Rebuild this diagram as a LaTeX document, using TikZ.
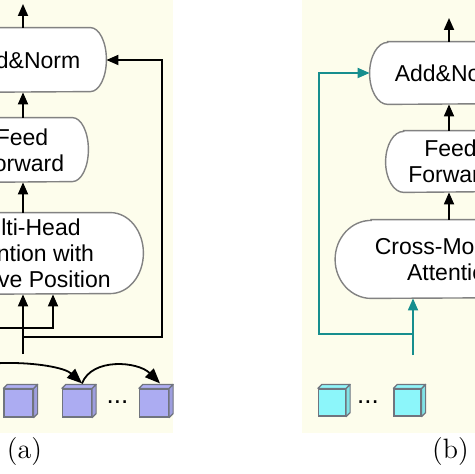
\documentclass[tikz,border=0pt]{standalone}
\usepackage{fontspec}
\newfontfamily\arialf{Liberation Sans}
\usetikzlibrary{arrows.meta,calc}
\definecolor{bgY}{RGB}{253,253,236}
\definecolor{lav}{RGB}{172,172,242}
\definecolor{cya}{RGB}{140,246,250}
\definecolor{tealc}{RGB}{22,142,142}
\definecolor{edgeg}{RGB}{130,130,130}
\definecolor{cubeg}{RGB}{112,116,126}
\pgfdeclarelayer{bglayer}\pgfdeclarelayer{midlayer}\pgfsetlayers{bglayer,midlayer,main}
\newcommand\pilloutline[3]{%
  \draw[pillb] ([xshift=#2]#1.north west) -- ([xshift=-#2]#1.north east)
    arc[start angle=90,end angle=-90,x radius=#2,y radius=#3]
    -- ([xshift=#2]#1.south west)
    arc[start angle=270,end angle=90,x radius=#2,y radius=#3] -- cycle;}
\begin{document}
\begin{tikzpicture}[x=0.5pt,y=-0.5pt,
  blk/.style 2 args={inner sep=0pt, align=center, minimum width=#1, minimum height=#2,
    font=\arialf\fontsize{11.5}{13}\selectfont},
  pillb/.style={draw=edgeg, fill=white, line width=0.7pt},
  arr/.style={line width=0.9pt, draw=black, -{Triangle[length=6pt,width=5pt]}},
  tarr/.style={line width=0.9pt, draw=tealc, -{Triangle[length=6pt,width=5pt]}},
  arcarr/.style={line width=0.9pt, -{Triangle[length=7.5pt,width=6pt]}},
  cubeL/.style={draw=cubeg, fill=lav, line width=0.6pt, inner sep=0pt, minimum width=14.5pt, minimum height=14pt},
  cubeR/.style={draw=cubeg, fill=cya, line width=0.6pt, inner sep=0pt, minimum width=13.5pt, minimum height=13.5pt},
  cubeface/.style={draw=cubeg, line width=0.6pt, line join=round},
  dotsn/.style={inner sep=0pt, font=\arialf\fontsize{13}{14}\selectfont},
  lab/.style={inner sep=0pt, font=\fontsize{14}{16}\selectfont}]
\useasboundingbox (0,0) rectangle (474,474);
\clip (0,0) rectangle (474,474);
\begin{pgfonlayer}{bglayer}
  \fill[white] (0,0) rectangle (474,474);
  \fill[bgY] (-10,0) rectangle (173,433);
  \fill[bgY] (302,0) rectangle (484,433);
\end{pgfonlayer}

% ---- panel (a)
\node[blk={82pt}{32pt}] (anl) at (24,60) {Add\&Norm};
\node[blk={66pt}{32pt}] (ffl) at (22,150) {Feed\\Forward};
\node[blk={118pt}{40.5pt}] (mhl) at (25,253.5) {Multi-Head\\Attention with\\Relative Position};
\begin{pgfonlayer}{midlayer}
  \pilloutline{anl}{8pt}{16pt}
  \pilloutline{ffl}{8pt}{16pt}
  \pilloutline{mhl}{16.5pt}{20.25pt}
\end{pgfonlayer}
\coordinate (inL) at (23,354);
\coordinate (outL) at (23,4);
\coordinate (b1) at (23,337);
\coordinate (r1) at (162,337);
\coordinate (relL) at (-10,328);
\coordinate (k2) at (53,328);
\draw[arr] (inL) -- (inL |- mhl.south);
\draw[arr] (relL) -- (k2) -- (k2 |- mhl.south);
\draw[arr] (b1) -- (r1) |- (anl.east);
\draw[arr] (inL |- mhl.north) -- (inL |- ffl.south);
\draw[arr] (inL |- ffl.north) -- (inL |- anl.south);
\draw[arr] (inL |- anl.north) -- (outL);

\node[cubeL] (c1) at (18.5,403) {};
\node[cubeL] (c2) at (77,403) {};
\node[cubeL] (c3) at (154,403) {};
\node[dotsn] (dl) at (117.5,402) {...};

% ---- panel (b)
\node[blk={81pt}{31pt}] (anr) at (451,73) {Add\&Norm};
\node[blk={64.5pt}{30.5pt}] (ffr) at (450.5,161.5) {Feed\\Forward};
\node[blk={117pt}{39pt}] (cmr) at (452.5,259) {Cross-Modal\hspace*{12.5pt}\\Attention};
\begin{pgfonlayer}{midlayer}
  \pilloutline{anr}{9pt}{15.5pt}
  \pilloutline{ffr}{9pt}{15.25pt}
  \pilloutline{cmr}{18pt}{19.5pt}
\end{pgfonlayer}
\coordinate (colR) at (449,0);
\coordinate (outR) at (449,18);
\coordinate (inR) at (413,355);
\coordinate (b2) at (413,334);
\coordinate (r2) at (319,334);
\draw[tarr] (inR) -- (inR |- cmr.south);
\draw[tarr] (b2) -- (r2) |- (anr.west);
\draw[arr] (colR |- cmr.north) -- (colR |- ffr.south);
\draw[arr] (colR |- ffr.north) -- (colR |- anr.south);
\draw[arr] (colR |- anr.north) -- (outR);

\node[cubeR] (q1) at (332,402.5) {};
\node[cubeR] (q2) at (407.5,402.5) {};
\node[dotsn] (dr) at (368,402) {...};

% cube depth faces
\foreach \c/\col in {c1/lav,c2/lav,c3/lav,q1/cya,q2/cya}{
  \filldraw[cubeface, fill=\col!92!black] (\c.north east) -- ([shift={(4,-4)}]\c.north east)
     -- ([shift={(4,-4)}]\c.south east) -- (\c.south east) -- cycle;
  \filldraw[cubeface, fill=\col!96!white] (\c.north west) -- ([shift={(4,-4)}]\c.north west)
     -- ([shift={(4,-4)}]\c.north east) -- (\c.north east) -- cycle;
}

% arcs between cubes
\coordinate (c0t) at (-60,384);
\coordinate (t2) at ([shift={(5,-5)}]c2.north);
\coordinate (t3) at ([shift={(6,-5)}]c3.north);
\draw[arcarr] (c0t) .. controls +(14,-30) and +(-24,-22) .. (t2);
\draw[arcarr] (t2) .. controls +(10,-26) and +(-22,-22) .. (t3);

% labels
\node[lab] (la) at (24.5,452) {(a)};
\node[lab] (lb) at (450.5,452) {(b)};
\end{tikzpicture}
\end{document}
